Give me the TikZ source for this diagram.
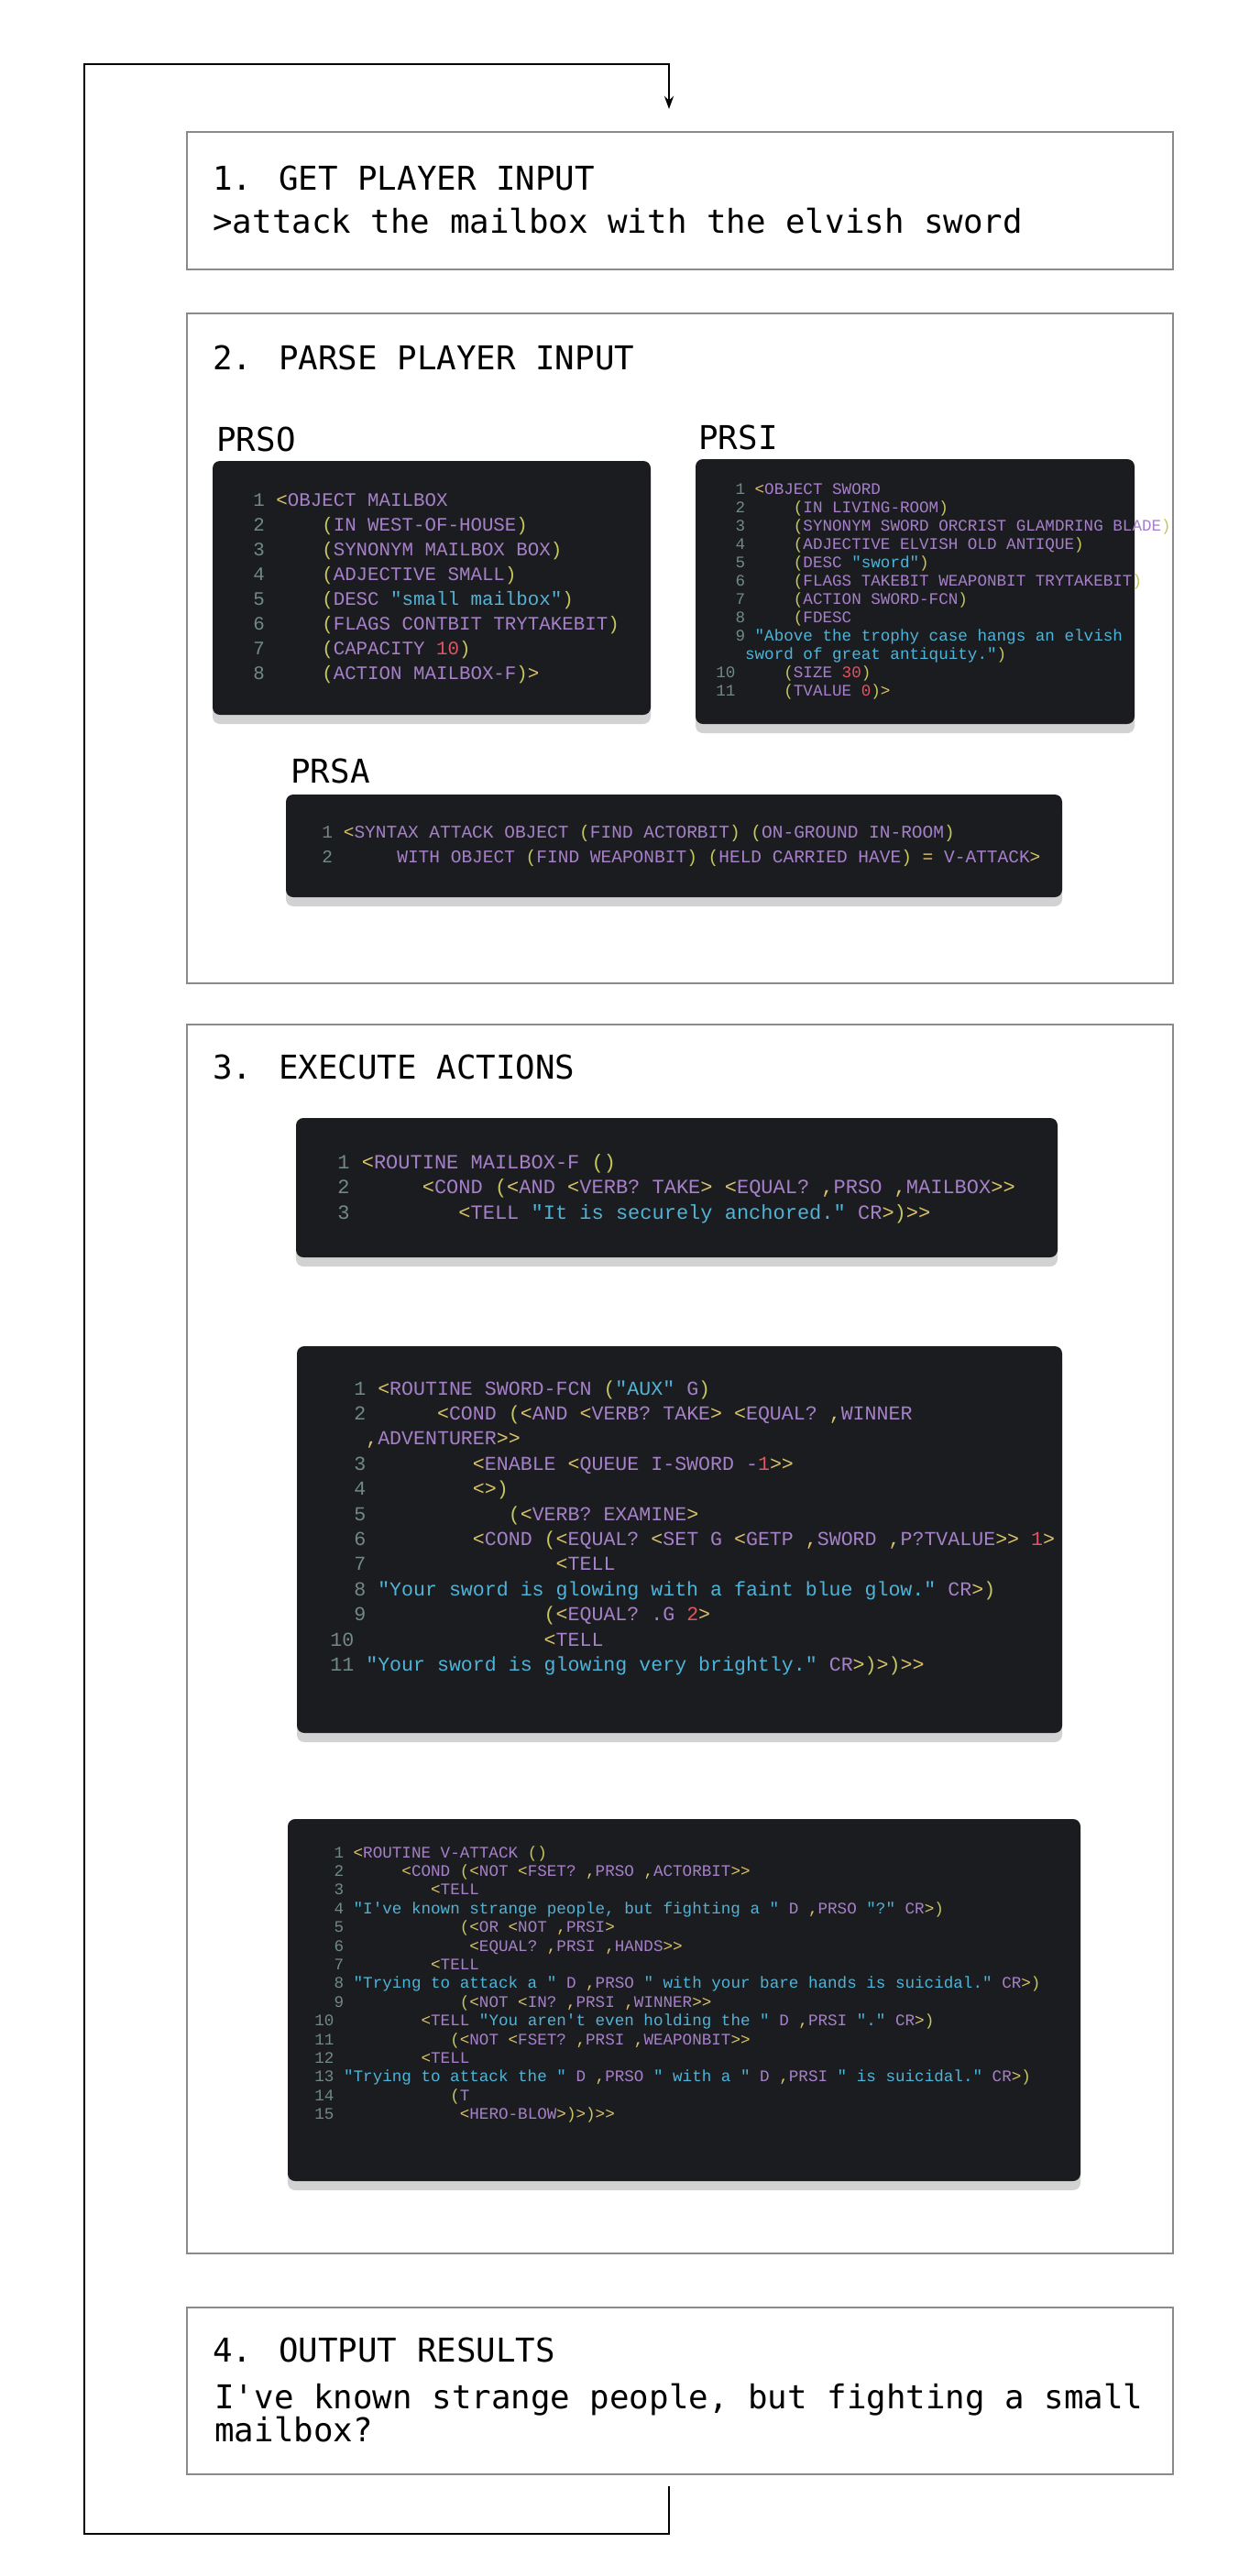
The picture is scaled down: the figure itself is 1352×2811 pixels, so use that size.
\documentclass[tikz,border=0pt]{standalone}
\usepackage{fontspec}
\usetikzlibrary{shadows,arrows.meta}
\newfontfamily\codef{Liberation Mono}
\newfontfamily\titf{DejaVu Sans Mono}
\definecolor{cbg}{HTML}{1B1C1F}
\definecolor{cpur}{HTML}{A680C8}
\definecolor{cyel}{HTML}{DCC36A}
\definecolor{cpar}{HTML}{C6C65E}
\definecolor{ccy}{HTML}{4FB4D8}
\definecolor{cred}{HTML}{E05561}
\definecolor{cnum}{HTML}{728A84}
\definecolor{cframe}{HTML}{8A8A8A}
\newcommand\zY[1]{\textcolor{cyel}{#1}}
\newcommand\zG[1]{\textcolor{cpar}{#1}}
\newcommand\zQ[1]{\textcolor{ccy}{#1}}
\newcommand\zR[1]{\textcolor{cred}{#1}}
\newcommand\zN[1]{\textcolor{cnum}{#1}}
\newcommand\zI[1]{\hspace*{#1\fontcharwd\font`\0}}
\newcommand\zL{\zY{<}}
\newcommand\zM{\zY{>}}
\newcommand\zC{\zY{,}}
\begin{document}
\begin{tikzpicture}[x=0.5pt,y=-0.5pt,
  stage/.style={draw=cframe,line width=0.8pt,fill=white},
  codebox/.style={fill=cbg,rounded corners=4pt,drop shadow={opacity=0.35,shadow xshift=0pt,shadow yshift=-5pt}},
  title/.style={anchor=base west,inner sep=0,font=\titf\fontsize{17.9}{20}\selectfont},
  code/.style={anchor=north west,inner sep=0,align=left,text=cpur}]
\useasboundingbox (0,0) rectangle (1352,2811);
% loop
\coordinate (loopS) at (730,2713);
\coordinate (loopE) at (730,119);
\draw[line width=1.2pt,-{Stealth[length=7pt,width=5pt]}] (loopS) -- (730,2765) -- (92,2765) -- (92,70) -- (730,70) -- (loopE);
% stage boxes
\draw[stage] (204,144) rectangle (1280,294) node[pos=0,inner sep=0] (b1) {};
\node[title] (t1) at (232,207) {1. GET PLAYER INPUT};
\node[title] (t1b) at (232,254) {>attack the mailbox with the elvish sword};
\draw[stage] (204,342) rectangle (1280,1073) node[pos=0,inner sep=0] (b2) {};
\node[title] (t2) at (232,403) {2. PARSE PLAYER INPUT};
\node[title] (lprso) at (236,492) {PRSO};
\node[title] (lprsi) at (762,490) {PRSI};
\node[title] (lprsa) at (317,854) {PRSA};
\draw[stage] (204,1118) rectangle (1280,2459) node[pos=0,inner sep=0] (b3) {};
\node[title] (t3) at (232,1177) {3. EXECUTE ACTIONS};
\draw[stage] (204,2518) rectangle (1280,2700) node[pos=0,inner sep=0] (b4) {};
\node[title] (t4) at (232,2577) {4. OUTPUT RESULTS};
\node[title] (t4b) at (234,2628) {I've known strange people, but fighting a small};
\node[title] (t4c) at (234,2664) {mailbox?};
% code boxes
\fill[codebox] (232,503) rectangle (710,780);
\fill[codebox] (759,501) rectangle (1238,790);
\fill[codebox] (312,867) rectangle (1159,979);
\fill[codebox] (323,1220) rectangle (1154,1372);
\fill[codebox] (324,1469) rectangle (1159,1891);
\fill[codebox] (314,1985) rectangle (1179,2380);
% PRSO
\node[code,font=\codef\fontsize{10.4}{13.5}\selectfont] (cprso) at (276,538) {%
\zN{1} \zL OBJECT MAILBOX\\
\zN{2} \zI4\zG{(}IN WEST-OF-HOUSE\zG{)}\\
\zN{3} \zI4\zG{(}SYNONYM MAILBOX BOX\zG{)}\\
\zN{4} \zI4\zG{(}ADJECTIVE SMALL\zG{)}\\
\zN{5} \zI4\zG{(}DESC \zQ{"small mailbox"}\zG{)}\\
\zN{6} \zI4\zG{(}FLAGS CONTBIT TRYTAKEBIT\zG{)}\\
\zN{7} \zI4\zG{(}CAPACITY \zR{10}\zG{)}\\
\zN{8} \zI4\zG{(}ACTION MAILBOX-F\zG{)}\zM};
% PRSI
\node[code,font=\codef\fontsize{8.8}{10}\selectfont] (cprsi) at (781,527) {%
\zN{\zI1 1} \zL OBJECT SWORD\\
\zN{\zI1 2} \zI4\zG{(}IN LIVING-ROOM\zG{)}\\
\zN{\zI1 3} \zI4\zG{(}SYNONYM SWORD ORCRIST GLAMDRING BLADE\zG{)}\\
\zN{\zI1 4} \zI4\zG{(}ADJECTIVE ELVISH OLD ANTIQUE\zG{)}\\
\zN{\zI1 5} \zI4\zG{(}DESC \zQ{"sword"}\zG{)}\\
\zN{\zI1 6} \zI4\zG{(}FLAGS TAKEBIT WEAPONBIT TRYTAKEBIT\zG{)}\\
\zN{\zI1 7} \zI4\zG{(}ACTION SWORD-FCN\zG{)}\\
\zN{\zI1 8} \zI4\zG{(}FDESC\\
\zN{\zI1 9} \zQ{"Above the trophy case hangs an elvish}\\
\zI3\zQ{sword of great antiquity."}\zG{)}\\
\zN{10} \zI4\zG{(}SIZE \zR{30}\zG{)}\\
\zN{11} \zI4\zG{(}TVALUE \zR{0}\zG{)}\zM};
% PRSA
\node[code,font=\codef\fontsize{9.75}{13.5}\selectfont] (cprsa) at (351,900) {%
\zN{1} \zL SYNTAX ATTACK OBJECT \zG{(}FIND ACTORBIT\zG{)} \zG{(}ON-GROUND IN-ROOM\zG{)}\\
\zN{2} \zI4 WITH OBJECT \zG{(}FIND WEAPONBIT\zG{)} \zG{(}HELD CARRIED HAVE\zG{)} \zY{=} V-ATTACK\zM};
% MAILBOX-F
\node[code,font=\codef\fontsize{11}{13.7}\selectfont] (cmbf) at (368,1259) {%
\zN{1} \zL ROUTINE MAILBOX-F \zG{()}\\
\zN{2} \zI5\zL COND \zG{(}\zL AND \zL VERB? TAKE\zM{} \zL EQUAL? \zC PRSO \zC MAILBOX\zM\zM\\
\zN{3} \zI8\zL TELL \zQ{"It is securely anchored."} CR\zM\zG{)}\zM\zM};
% SWORD-FCN
\node[code,font=\codef\fontsize{10.8}{13.7}\selectfont] (cswd) at (360,1506) {%
\zN{\zI1 1} \zL ROUTINE SWORD-FCN \zG{(}\zQ{"AUX"} G\zG{)}\\
\zN{\zI1 2} \zI5\zL COND \zG{(}\zL AND \zL VERB? TAKE\zM{} \zL EQUAL? \zC WINNER\\
\zI3\zC ADVENTURER\zM\zM\\
\zN{\zI1 3} \zI8\zL ENABLE \zL QUEUE I-SWORD -\zR{1}\zM\zM\\
\zN{\zI1 4} \zI8\zL\zM\zG{)}\\
\zN{\zI1 5} \zI{11}\zG{(}\zL VERB? EXAMINE\zM\\
\zN{\zI1 6} \zI8\zL COND \zG{(}\zL EQUAL? \zL SET G \zL GETP \zC SWORD \zC P?TVALUE\zM\zM{} \zR{1}\zM\\
\zN{\zI1 7} \zI{15}\zL TELL\\
\zN{\zI1 8} \zQ{"Your sword is glowing with a faint blue glow."} CR\zM\zG{)}\\
\zN{\zI1 9} \zI{14}\zG{(}\zL EQUAL? .G \zR{2}\zM\\
\zN{10} \zI{15}\zL TELL\\
\zN{11} \zQ{"Your sword is glowing very brightly."} CR\zM\zG{)}\zM\zG{)}\zM\zM};
% V-ATTACK
\node[code,font=\codef\fontsize{8.8}{10.2}\selectfont] (cva) at (343,2014) {%
\zN{\zI1 1} \zL ROUTINE V-ATTACK \zG{()}\\
\zN{\zI1 2} \zI5\zL COND \zG{(}\zL NOT \zL FSET? \zC PRSO \zC ACTORBIT\zM\zM\\
\zN{\zI1 3} \zI8\zL TELL\\
\zN{\zI1 4} \zQ{"I've known strange people, but fighting a "} D \zC PRSO \zQ{"?"} CR\zM\zG{)}\\
\zN{\zI1 5} \zI{11}\zG{(}\zL OR \zL NOT \zC PRSI\zM\\
\zN{\zI1 6} \zI{12}\zL EQUAL? \zC PRSI \zC HANDS\zM\zM\\
\zN{\zI1 7} \zI8\zL TELL\\
\zN{\zI1 8} \zQ{"Trying to attack a "} D \zC PRSO \zQ{" with your bare hands is suicidal."} CR\zM\zG{)}\\
\zN{\zI1 9} \zI{11}\zG{(}\zL NOT \zL IN? \zC PRSI \zC WINNER\zM\zM\\
\zN{10} \zI8\zL TELL \zQ{"You aren't even holding the "} D \zC PRSI \zQ{"."} CR\zM\zG{)}\\
\zN{11} \zI{11}\zG{(}\zL NOT \zL FSET? \zC PRSI \zC WEAPONBIT\zM\zM\\
\zN{12} \zI8\zL TELL\\
\zN{13} \zQ{"Trying to attack the "} D \zC PRSO \zQ{" with a "} D \zC PRSI \zQ{" is suicidal."} CR\zM\zG{)}\\
\zN{14} \zI{11}\zG{(}T\\
\zN{15} \zI{12}\zL HERO-BLOW\zM\zG{)}\zM\zG{)}\zM\zM};
\end{tikzpicture}
\end{document}
